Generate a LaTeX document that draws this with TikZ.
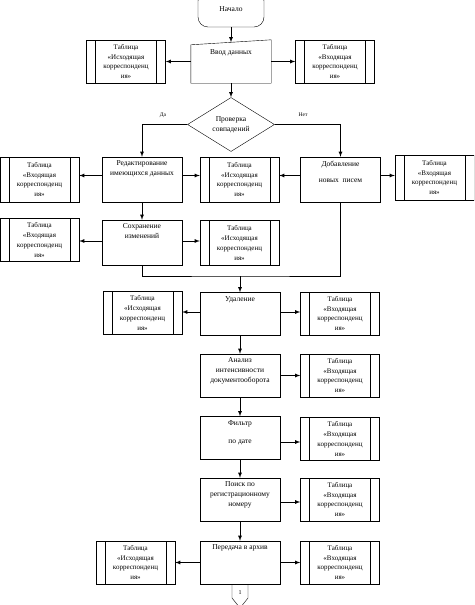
\documentclass[tikz,border=0pt]{standalone}
\usepackage{fontspec}
\setmainfont{Liberation Serif}
\usetikzlibrary{shapes,arrows,calc}

\begin{document}
\begin{tikzpicture}[x=1pt,y=-1pt,
            font=\fontsize{7.5}{10}\selectfont,
            proc/.style={draw,minimum width=80pt,minimum height=43pt,inner sep=0pt},
            ptext/.style={anchor=north,align=center,inner sep=0pt,yshift=-4pt},
            tbl/.style={draw,minimum width=79pt,minimum height=43pt,inner sep=0pt,align=center,font=\fontsize{7}{9.8}\selectfont,
               path picture={\draw ([xshift=9pt]path picture bounding box.north west) -- ([xshift=9pt]path picture bounding box.south west)
                                   ([xshift=-9pt]path picture bounding box.north east) -- ([xshift=-9pt]path picture bounding box.south east);}},
            arr/.style={thick,-latex},
            line/.style={thick}]
            \useasboundingbox (0,0) rectangle (474,605);
            \clip (0,0) rectangle (474,605);

            \node[draw,rounded corners=10pt,minimum width=66pt,minimum height=36pt] (start) at (231,9) {Начало};
            \node[proc,draw=none,label={[ptext,yshift=-6pt]north:Ввод данных}] (inp) at (231,61.5) {};
            \draw (inp.south west) -- ([yshift=-5pt]inp.north west) -- (inp.north east) -- (inp.south east) -- cycle;
            \node[tbl] (t1) at (126,61.5) {Таблица\\«Исходящая\\корреспонденц\\ия»};
            \node[tbl] (t2) at (335,61.5) {Таблица\\«Входящая\\корреспонденц\\ия»};

            \node[draw,diamond,minimum width=87pt,minimum height=54pt,inner sep=0pt,align=center] (dia) at (231,124.5) {Проверка\\совпадений};
            \node (yes) at (163,115) {\fontsize{5.5}{6}\selectfont Да};
            \node (no) at (303,115) {\fontsize{5.5}{6}\selectfont Нет};

            \node[proc,minimum height=45pt,label={[ptext]north:Редактирование\\имеющихся данных}] (edit) at (142,179.5) {};
            \node[proc,minimum height=45pt,label={[ptext]north:Добавление\\[6pt]новых\enspace писем}] (add) at (340.5,179.5) {};
            \node[tbl,minimum height=45pt] (t3) at (39.5,179.5) {Таблица\\«Входящая\\корреспонденц\\ия»};
            \node[tbl,minimum height=45pt] (t4) at (239.5,179.5) {Таблица\\«Исходящая\\корреспонденц\\ия»};
            \node[tbl,minimum height=45pt] (t5) at (434.5,177.5) {Таблица\\«Входящая\\корреспонденц\\ия»};

            \node[proc,minimum height=45pt,label={[ptext]north:Сохранение\\изменений}] (save) at (142,242.5) {};
            \node[tbl] (t6) at (39.5,240) {Таблица\\«Входящая\\корреспонденц\\ия»};
            \node[tbl,minimum height=45pt] (t7) at (239.5,243) {Таблица\\«Исходящая\\корреспонденц\\ия»};
            \coordinate (jn) at (240,276);

            \node[proc,label={[ptext]north:Удаление}] (del) at (240,314) {};
            \node[tbl] (t8) at (142.5,313) {Таблица\\«Исходящая\\корреспонденц\\ия»};
            \node[tbl] (t9) at (340,313.5) {Таблица\\«Входящая\\корреспонденц\\ия»};

            \node[proc,label={[ptext]north:Анализ\\интенсивности\\документооборота}] (ana) at (240,375.5) {};
            \node[tbl] (t10) at (340,375.5) {Таблица\\«Входящая\\корреспонденц\\ия»};

            \node[proc,label={[ptext]north:Фильтр\\[8pt]по дате}] (flt) at (240,438) {};
            \node[tbl] (t11) at (340,439) {Таблица\\«Входящая\\корреспонденц\\ия»};

            \node[proc,label={[ptext]north:Поиск по\\регистрационному\\номеру}] (srch) at (240,499.5) {};
            \node[tbl] (t12) at (340,499.5) {Таблица\\«Входящая\\корреспонденц\\ия»};

            \node[proc,label={[ptext]north:Передача в архив}] (arch) at (240,562.5) {};
            \node[tbl] (t13) at (135.5,562.5) {Таблица\\«Исходящая\\корреспонденц\\ия»};
            \node[tbl] (t14) at (340,562.5) {Таблица\\«Входящая\\корреспонденц\\ия»};

            \draw (232,584) -- (232,598) -- (240,608) -- (248,598) -- (248,584);
            \node (one) at (240,593) {\fontsize{6}{6}\selectfont 1};

            \draw[arr] (start.south) -- ([yshift=-2.5pt]inp.north);
            \draw[arr] (inp.west) -- (inp.west -| t1.east);
            \draw[arr] (inp.east) -- (inp.east -| t2.west);
            \draw[arr] (inp.south) -- (dia.north);
            \draw[arr] (dia.west) -| (edit.north);
            \draw[arr] (dia.east) -| (add.north);
            \draw[arr] ([yshift=4pt]edit.west) -- ([yshift=4pt]edit.west -| t3.east);
            \draw[arr] ([yshift=4pt]edit.east) -- ([yshift=4pt]edit.east -| t4.west);
            \draw[arr] ([yshift=4pt]add.west) -- ([yshift=4pt]add.west -| t4.east);
            \draw[arr] ([yshift=4pt]add.east) -- ([yshift=4pt]add.east -| t5.west);
            \draw[arr] (edit.south) -- (save.north);
            \draw[arr] ([yshift=1.5pt]save.west) -- ([yshift=1.5pt]save.west -| t6.east);
            \draw[arr] ([yshift=1.5pt]save.east) -- ([yshift=1.5pt]save.east -| t7.west);
            \draw[line] (save.south) |- (jn) -| (add.south);
            \draw[arr] (jn) -- (del.north);
            \draw[arr] ([yshift=2pt]del.west) -- ([yshift=2pt]del.west -| t8.east);
            \draw[arr] ([yshift=2pt]del.east) -- ([yshift=2pt]del.east -| t9.west);
            \draw[arr] (del.south) -- (ana.north);
            \draw[arr] (ana.east) -- (ana.east -| t10.west);
            \draw[arr] (ana.south) -- (flt.north);
            \draw[arr] ([yshift=-4pt]flt.east) -- ([yshift=-4pt]flt.east -| t11.west);
            \draw[arr] (flt.south) -- (srch.north);
            \draw[arr] ([yshift=-2.5pt]srch.east) -- ([yshift=-2.5pt]srch.east -| t12.west);
            \draw[arr] (srch.south) -- (arch.north);
            \draw[arr] (arch.west) -- (arch.west -| t13.east);
            \draw[arr] (arch.east) -- (arch.east -| t14.west);
\end{tikzpicture}
\end{document}
